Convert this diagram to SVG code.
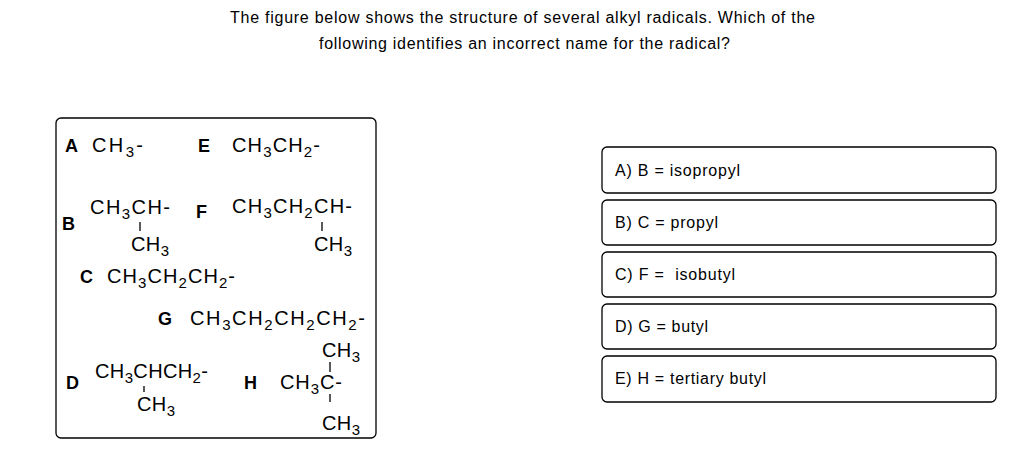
<svg xmlns="http://www.w3.org/2000/svg" width="1024" height="469" viewBox="0 0 1024 469">
<style>
text{font-family:"Liberation Sans",Arial,sans-serif;fill:#000}
.t{font-size:16px}
.f{font-size:20px}
.b{font-size:18px;font-weight:bold}
.s{font-size:15px}
.o{font-size:16px}
.box{fill:#fff;stroke:#000;stroke-width:1.3}
.bar{stroke:#000;stroke-width:1.3}
</style>
<rect width="1024" height="469" fill="#fff"/>
<text class="t" x="230" y="23" textLength="585" lengthAdjust="spacing">The figure below shows the structure of several alkyl radicals. Which of the</text>
<text class="t" x="319" y="49" textLength="411" lengthAdjust="spacing">following identifies an incorrect name for the radical?</text>
<g id="structures">
<rect class="box" x="56" y="118" width="320" height="320" rx="5"/>
<text class="b" x="65" y="152">A</text>
<text class="f" x="92" y="152" textLength="51">CH<tspan class="s" dy="5">3</tspan><tspan dy="-5">-</tspan></text>
<text class="b" x="198" y="152">E</text>
<text class="f" x="232" y="152" textLength="88">CH<tspan class="s" dy="5">3</tspan><tspan dy="-5">CH</tspan><tspan class="s" dy="5">2</tspan><tspan dy="-5">-</tspan></text>
<text class="b" x="62" y="230">B</text>
<text class="f" x="90" y="214" textLength="80">CH<tspan class="s" dy="5">3</tspan><tspan dy="-5">CH-</tspan></text>
<line class="bar" x1="140" y1="222" x2="140" y2="231"/>
<text class="f" x="131" y="251" textLength="38">CH<tspan class="s" dy="5">3</tspan></text>
<text class="b" x="196" y="218">F</text>
<text class="f" x="232" y="213" textLength="120">CH<tspan class="s" dy="5">3</tspan><tspan dy="-5">CH</tspan><tspan class="s" dy="5">2</tspan><tspan dy="-5">CH-</tspan></text>
<line class="bar" x1="322" y1="222" x2="322" y2="231"/>
<text class="f" x="314" y="251" textLength="38">CH<tspan class="s" dy="5">3</tspan></text>
<text class="b" x="80" y="283">C</text>
<text class="f" x="107" y="283" textLength="128">CH<tspan class="s" dy="5">3</tspan><tspan dy="-5">CH</tspan><tspan class="s" dy="5">2</tspan><tspan dy="-5">CH</tspan><tspan class="s" dy="5">2</tspan><tspan dy="-5">-</tspan></text>
<text class="b" x="158" y="325">G</text>
<text class="f" x="190" y="325" textLength="175">CH<tspan class="s" dy="5">3</tspan><tspan dy="-5">CH</tspan><tspan class="s" dy="5">2</tspan><tspan dy="-5">CH</tspan><tspan class="s" dy="5">2</tspan><tspan dy="-5">CH</tspan><tspan class="s" dy="5">2</tspan><tspan dy="-5">-</tspan></text>
<text class="f" x="322" y="357" textLength="38">CH<tspan class="s" dy="5">3</tspan></text>
<line class="bar" x1="330" y1="362" x2="330" y2="372"/>
<text class="b" x="244" y="389">H</text>
<text class="f" x="280" y="389" textLength="62">CH<tspan class="s" dy="5">3</tspan><tspan dy="-5">C-</tspan></text>
<line class="bar" x1="330" y1="394" x2="330" y2="402"/>
<text class="f" x="322" y="430" textLength="38">CH<tspan class="s" dy="5">3</tspan></text>
<text class="b" x="66" y="389">D</text>
<text class="f" x="95" y="378" textLength="113">CH<tspan class="s" dy="5">3</tspan><tspan dy="-5">CHCH</tspan><tspan class="s" dy="5">2</tspan><tspan dy="-5">-</tspan></text>
<line class="bar" x1="144" y1="386" x2="144" y2="392"/>
<text class="f" x="137" y="411" textLength="38">CH<tspan class="s" dy="5">3</tspan></text>
</g>
<g id="options">
<rect class="box" x="602" y="147" width="394" height="46" rx="5"/>
<text class="o" x="615" y="176" textLength="125">A) B = isopropyl</text>
<rect class="box" x="602" y="200" width="394" height="45" rx="5"/>
<text class="o" x="615" y="228" textLength="103">B) C = propyl</text>
<rect class="box" x="602" y="252" width="394" height="45" rx="5"/>
<text class="o" x="615" y="280" textLength="120" xml:space="preserve">C) F =  isobutyl</text>
<rect class="box" x="602" y="304" width="394" height="45" rx="5"/>
<text class="o" x="615" y="332" textLength="93">D) G = butyl</text>
<rect class="box" x="602" y="356" width="394" height="46" rx="5"/>
<text class="o" x="615" y="384" textLength="151">E) H = tertiary butyl</text>
</g>
</svg>
